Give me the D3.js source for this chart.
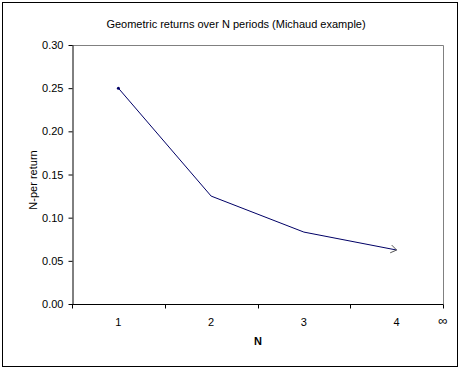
<!DOCTYPE html>
<html><head><meta charset="utf-8">
<script src="https://cdn.jsdelivr.net/npm/d3@7"></script>
<style>
body{margin:0;background:#fff;}
text{font-family:"Liberation Sans",Arial,sans-serif;}
</style></head>
<body><svg id="c" width="463" height="371"></svg>
<script>
const categories = ["1","2","3","4"];
const values = [0.25, 0.125, 0.0833, 0.0625];
const yTicks = [0, 0.05, 0.10, 0.15, 0.20, 0.25, 0.30];
const endLabel = "∞";
const title = "Geometric returns over N periods (Michaud example)";
const xTitle = "N";
const yTitle = "N-per return";

const svg = d3.select("#c");
svg.append("rect").attr("x",2.5).attr("y",2.5).attr("width",455).attr("height",364)
  .attr("fill","#fff").attr("stroke","#000").attr("stroke-width",1);

const L=72, R=443, T=45, B=304;
const x = d3.scaleBand().domain(categories).range([L,R]);
const y = d3.scaleLinear().domain([0,0.30]).range([B,T]);

// plot border top/right
svg.append("path").attr("d",`M${L},${T+0.5}H${R+0.5}V${B}`).attr("fill","none").attr("stroke","#808080");

// y axis
const ya = svg.append("g").attr("transform",`translate(${L+0.5},0)`)
  .call(d3.axisLeft(y).tickValues(yTicks).tickFormat(d3.format(".2f")).tickSize(4).tickSizeOuter(0));
ya.select(".domain").attr("stroke","#000");
ya.selectAll("text").attr("font-size",11).attr("fill","#000").attr("dx",-2);

// x axis
const xa = svg.append("g").attr("transform",`translate(0,${B+0.5})`);
xa.append("line").attr("x1",L).attr("x2",R+0.5).attr("stroke","#000");
const tickPos = categories.map(c=>x(c)).concat([R]);
xa.selectAll("line.t").data(tickPos).enter().append("line").attr("class","t")
  .attr("x1",d=>Math.round(d)+0.5).attr("x2",d=>Math.round(d)+0.5).attr("y1",0).attr("y2",4).attr("stroke","#000");
xa.selectAll("text.l").data(categories).enter().append("text").attr("class","l")
  .attr("x",d=>x(d)+x.bandwidth()/2).attr("y",21).attr("text-anchor","middle")
  .attr("font-size",11).text(d=>d);
xa.append("text").attr("x",R).attr("y",20).attr("text-anchor","middle").attr("font-size",13).text(endLabel);

// line
const pts = categories.map((c,i)=>[x(c)+x.bandwidth()/2, y(values[i])]);
svg.append("path").attr("d",d3.line()(pts)).attr("fill","none").attr("stroke","#000066").attr("stroke-width",1);
svg.append("circle").attr("cx",pts[0][0]).attr("cy",pts[0][1]).attr("r",1.5).attr("fill","#000066");
// arrow head
const last = pts[pts.length-1], prev = pts[pts.length-2];
const ang = Math.atan2(last[1]-prev[1], last[0]-prev[0]);
const hl = 7, ha = 0.6;
const a1 = [last[0]-hl*Math.cos(ang-ha), last[1]-hl*Math.sin(ang-ha)];
const a2 = [last[0]-hl*Math.cos(ang+ha), last[1]-hl*Math.sin(ang+ha)];
svg.append("path").attr("d",`M${a1}L${last}L${a2}`).attr("fill","none").attr("stroke","#555").attr("stroke-width",1);

// titles
svg.append("text").attr("x",236).attr("y",28).attr("text-anchor","middle").attr("font-size",11).text(title);
svg.append("text").attr("x",258).attr("y",345).attr("text-anchor","middle").attr("font-size",11).attr("font-weight","bold").text(xTitle);
svg.append("text").attr("transform","translate(37,180) rotate(-90)").attr("text-anchor","middle").attr("font-size",11).text(yTitle);
</script></body></html>
